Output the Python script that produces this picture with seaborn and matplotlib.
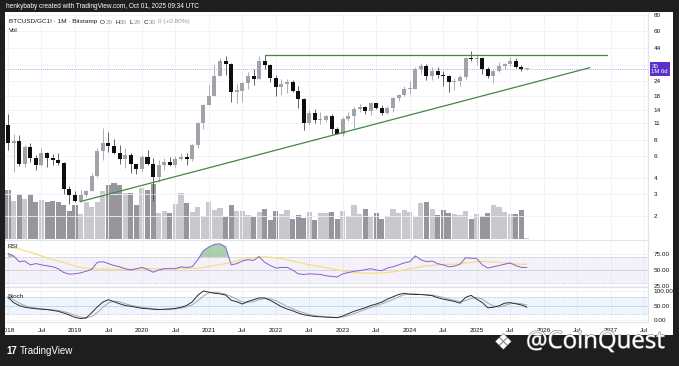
import numpy as np
import pandas as pd
import matplotlib.pyplot as plt
import matplotlib.patheffects as pe
from matplotlib.patches import Rectangle
from matplotlib.ticker import NullLocator
import seaborn as sns

# monthly candles BTCUSD/GC1!, Jan 2018 .. Oct 2025
first_open = 10.6
close = [7.6, 7.84, 5.22, 7.03, 5.77, 5.10, 6.32, 5.83, 5.56, 5.24, 3.29, 2.92,
         2.62, 2.93, 3.17, 4.15, 6.57, 7.66, 7.14, 6.34, 5.63, 6.08, 5.17, 4.72,
         5.89, 5.15, 4.08, 5.11, 5.40, 5.08, 5.72, 5.90, 5.69, 7.34, 11.07, 15.3,
         17.9, 26.1, 34.3, 32.7, 19.6, 19.8, 22.8, 25.9, 24.9, 34.4, 32.1, 25.3,
         21.4, 22.7, 23.3, 19.7, 17.2, 11.0, 13.1, 11.6, 11.6, 12.5, 9.78, 9.04,
         11.9, 12.6, 14.3, 14.7, 13.7, 15.8, 14.6, 13.2, 14.5, 17.3, 18.3, 20.4,
         20.6, 29.7, 31.6, 26.3, 28.7, 26.8, 26.1, 23.3, 23.8, 25.5, 36.0, 35.4,
         36.1, 29.6, 26.2, 28.5, 31.6, 32.4, 34.6, 30.8, 29.4, 29.6]
high = [12.9, 8.9, 8.8, 7.4, 7.6, 6.1, 6.9, 6.45, 6.2, 6.3, 5.4, 3.45,
        3.15, 3.2, 3.2, 4.35, 7.0, 10.0, 9.3, 8.2, 7.3, 7.0, 6.3, 5.2,
        6.1, 6.7, 5.8, 5.6, 5.8, 5.9, 6.0, 6.3, 6.3, 7.5, 11.2, 15.5,
        22.5, 32.0, 36.2, 37.5, 33.0, 22.5, 23.5, 28.0, 29.5, 37.5, 38.5, 32.5,
        26.6, 24.5, 24.8, 24.3, 21.5, 17.5, 14.0, 14.2, 13.5, 12.8, 13.0, 10.2,
        12.3, 13.5, 14.8, 15.5, 15.0, 16.2, 16.0, 15.4, 14.9, 17.6, 18.7, 21.6,
        23.6, 31.0, 33.4, 32.3, 30.6, 30.8, 28.5, 26.8, 25.1, 26.8, 37.2, 41.0,
        39.0, 37.0, 30.5, 29.3, 33.8, 33.3, 37.3, 36.0, 32.0, 30.0]
low = [6.7, 4.5, 5.0, 4.9, 5.4, 4.6, 4.95, 4.9, 5.1, 5.1, 3.0, 2.5,
       2.55, 2.58, 2.84, 3.15, 4.1, 5.6, 6.4, 6.2, 5.2, 4.8, 4.4, 4.3,
       4.45, 5.1, 2.6, 3.7, 4.65, 5.0, 4.9, 5.6, 5.1, 5.5, 7.0, 9.8,
       15.2, 17.9, 26.0, 26.6, 16.2, 15.8, 16.3, 20.5, 22.3, 24.5, 29.7, 23.3,
       18.2, 18.3, 19.0, 19.6, 14.4, 9.7, 10.6, 11.0, 10.8, 11.1, 8.9, 9.0,
       8.7, 11.4, 10.1, 13.4, 13.0, 12.8, 14.2, 12.8, 12.9, 13.5, 16.6, 18.2,
       18.6, 20.4, 27.0, 24.4, 24.1, 25.0, 21.8, 19.6, 20.1, 21.5, 24.9, 34.5,
       31.8, 27.3, 25.0, 23.0, 28.2, 29.6, 31.6, 30.3, 28.6, 29.0]
volume = [49, 38, 45, 40, 45, 37, 39, 37, 38, 37, 34, 28,
          34, 25, 37, 32, 37, 48, 54, 56, 54, 46, 46, 34,
          51, 49, 55, 26, 28, 26, 35, 46, 36, 27, 32, 23,
          37, 29, 31, 22, 34, 28, 28, 24, 22, 27, 30, 19,
          28, 25, 29, 20, 24, 21, 27, 19, 26, 26, 27, 20,
          28, 23, 34, 25, 30, 22, 26, 20, 23, 30, 26, 29,
          27, 22, 36, 37, 30, 24, 29, 26, 25, 24, 28, 20,
          25, 23, 26, 34, 32, 27, 25, 25, 29, 1]
rsi = [76, 72, 63, 64, 58, 60, 58, 56.5, 55, 52, 46, 43.5,
       44, 45.5, 48, 51, 62, 63, 60, 57, 55, 52, 50, 52,
       54, 51, 46.5, 50, 52, 52, 52, 55, 54, 55, 66, 80,
       86, 90, 91, 86, 58, 60, 64, 66, 65, 71, 62, 57,
       53, 54, 54, 50, 44, 43, 44, 43.5, 43, 41, 40, 39,
       44, 46, 48, 49, 50.5, 52, 50, 49, 53, 55, 58, 61,
       63, 72, 66, 63, 64, 60, 58, 55, 56, 59, 69, 68.5,
       68, 58, 53, 55, 57, 59, 61, 57, 54, 54]
rsi_ma = [85, 84, 83, 80, 78, 75, 72, 69, 66, 64, 62, 59,
          56, 54, 53, 52, 51.5, 51.5, 51.5, 51.5, 51, 51, 51, 51.5,
          51.5, 52, 52, 52, 52, 52.5, 52.5, 52.5, 52.5, 52.5, 53, 54,
          55.5, 57, 58.5, 60, 62, 64, 66, 68, 69, 70, 70.5, 70,
          69, 68, 66, 64, 62, 60, 58, 56.5, 55, 53.5, 52, 50.5,
          48.5, 47, 46, 45.5, 45, 45, 45, 45.5, 46, 47, 48.5, 50,
          52, 53.5, 55, 56.5, 57, 58, 58.5, 59, 59, 60, 61, 62,
          63, 63.5, 63, 62.5, 62, 61, 60, 59.5, 59, 59]
stoch_k = [78, 60, 50, 44, 41, 39, 37, 36, 33, 30, 24, 17,
           9, 5, 7, 25, 45, 62, 70, 63, 56, 50, 47, 44,
           40, 39, 37, 36, 37, 38, 40, 44, 50, 62, 85, 100,
           96, 92, 90, 86, 68, 63, 55, 64, 70, 76, 76, 68,
           57, 46, 38, 32, 24, 18, 15, 12, 11, 10, 9, 8,
           14, 22, 30, 36, 42, 50, 55, 62, 72, 80, 88, 92,
           89, 88, 88, 86, 84, 77, 72, 68, 64, 58, 78, 85,
           72, 60, 42, 44, 49, 58, 60, 56, 52, 44]
stoch_d = [82, 70, 58, 50, 44, 41, 39, 37, 35, 33, 29, 23,
           16, 10, 7, 12, 26, 44, 59, 65, 63, 56, 51, 47,
           44, 41, 39, 37, 36, 37, 38, 41, 45, 52, 66, 82,
           94, 96, 93, 89, 81, 72, 62, 61, 63, 70, 74, 73,
           67, 57, 47, 39, 31, 25, 19, 15, 13, 11, 10, 9,
           10, 15, 22, 29, 36, 43, 49, 56, 63, 71, 80, 87,
           90, 90, 88, 87, 86, 82, 78, 72, 68, 63, 67, 74,
           78, 72, 58, 49, 45, 50, 56, 58, 56, 51]

# drawn trendlines (month index, price)
support_x = [12.9, 104.3]
support_y = [2.59, 30.4]
resist_x = [46.1, 107.3]
resist_y = [38.4, 38.4]

price_ticks = [2, 3, 4, 6, 8, 11, 14, 18, 24, 32, 44, 60, 80]
x_labels = ["2018", "Jul", "2019", "Jul", "2020", "Jul", "2021", "Jul", "2022", "Jul",
            "2023", "Jul", "2024", "Jul", "2025", "Jul", "2026", "Jul", "2027", "Jul"]

df = pd.DataFrame({"close": close, "high": high, "low": low, "volume": volume,
                   "rsi": rsi, "rsi_ma": rsi_ma, "k": stoch_k, "d": stoch_d})
df["idx"] = np.arange(len(df))
df["open"] = [first_open] + close[:-1]
up = df["close"] >= df["open"]

W, H = 679, 366
def box(l, t, r, b):
    return [l / W, 1 - b / H, (r - l) / W, (b - t) / H]

sns.set_style("white")
plt.rcParams['font.family'] = ['Liberation Sans', 'DejaVu Sans']
TXT = '#131722'
GRID = '#f0f1f5'
SEP = '#e0e3eb'
XMIN, XMAX = -0.54, 114.7

fig = plt.figure(figsize=(6.79, 3.66), dpi=100, facecolor='#1e1e1e')
fig.add_artist(Rectangle((5 / W, 1 - 335 / H), 668 / W, 323 / H, transform=fig.transFigure,
                         fc='white', ec='none', zorder=-1))

ax_v = fig.add_axes(box(5, 13, 648, 240))
ax_p = fig.add_axes(box(5, 13, 648, 240), sharex=ax_v)
ax_r = fig.add_axes(box(5, 240, 648, 287), sharex=ax_v)
ax_s = fig.add_axes(box(5, 287, 648, 322), sharex=ax_v)

# volume
vol_colors = np.where(up, '#c8c8cd', '#96969c')
ax_v.bar(df["idx"], df["volume"], width=0.92, color=vol_colors, linewidth=0)
ax_v.set_ylim(-1, 226)
ax_v.set_yticks([])
ax_v.grid(False)

# candles
ax_p.patch.set_visible(False)
wick_colors = np.where(up, '#a2a2aa', '#4a4a4a')
body_colors = np.where(up, '#a2a2aa', '#0e0e0e')
ax_p.vlines(df["idx"], df["low"], df["high"], colors=wick_colors, lw=0.6, zorder=2)
body_lo = np.minimum(df["open"], df["close"])
body_h = np.maximum(np.abs(df["close"] - df["open"]), body_lo * 0.025)
ax_p.bar(df["idx"], body_h, bottom=body_lo, width=0.72, color=body_colors, linewidth=0, zorder=3)

ax_p.plot(support_x, support_y, color='#3f8a43', lw=0.9, zorder=4)
ax_p.plot(resist_x, resist_y, color='#3f8a43', lw=0.9, zorder=4)
ax_p.axhline(close[-1], color='#a48be0', ls=(0, (1, 1.5)), lw=0.6, zorder=1)

ax_p.set_yscale('log')
ax_p.set_ylim(1.28, 83)
ax_p.set_yticks(price_ticks)
ax_p.set_yticklabels([str(t) for t in price_ticks])
ax_p.yaxis.set_minor_locator(NullLocator())
ax_p.annotate("30\n1M 6d", xy=(1.0, close[-1]), xycoords=('axes fraction', 'data'),
              xytext=(2.5, 0), textcoords='offset points', ha='left', va='center',
              fontsize=4.3, color='white', linespacing=1.0, annotation_clip=False,
              bbox=dict(boxstyle='square,pad=0.3', fc='#5b2fc9', ec='none'), zorder=10)

# RSI
ax_r.axhspan(30, 70, color='#7e57c2', alpha=0.08, lw=0)
for lv in (70, 50, 30):
    ax_r.axhline(lv, color='#a0a3ad', ls=(0, (1, 1.5)), lw=0.5)
rsi_arr = df["rsi"].to_numpy()
ax_r.fill_between(df["idx"], rsi_arr, 70, where=rsi_arr > 70, interpolate=True,
                  color='#5aa05e', alpha=0.5, lw=0)
sns.lineplot(x=df["idx"], y=df["rsi_ma"], ax=ax_r, color='#f8de7e', lw=0.9, legend=False)
sns.lineplot(x=df["idx"], y=df["rsi"], ax=ax_r, color='#8462cc', lw=0.7, legend=False)
ax_r.set_ylim(23.4, 96.9)
ax_r.set_yticks([25, 50, 75])
ax_r.set_yticklabels(['25.00', '50.00', '75.00'])

# Stoch
ax_s.axhspan(20, 80, color='#2196f3', alpha=0.08, lw=0)
for lv in (80, 50, 20):
    ax_s.axhline(lv, color='#a0a3ad', ls=(0, (1, 1.5)), lw=0.5)
sns.lineplot(x=df["idx"], y=df["d"], ax=ax_s, color='#a6a6a6', lw=0.7, legend=False)
sns.lineplot(x=df["idx"], y=df["k"], ax=ax_s, color='#2e2e2e', lw=0.7, legend=False)
ax_s.set_ylim(-6.9, 113.8)
ax_s.set_yticks([0, 50, 100])
ax_s.set_yticklabels(['0.00', '50.00', '100.00'])

ax_s.set_xticks(np.arange(0, 115, 6))
ax_s.set_xticklabels(x_labels)
ax_s.set_xlim(XMIN, XMAX)

for ax in (ax_v, ax_p, ax_r, ax_s):
    ax.set_xlabel('')
    ax.set_ylabel('')
    for s in ax.spines.values():
        s.set_visible(False)
for ax in (ax_p, ax_r, ax_s):
    ax.yaxis.tick_right()
    ax.grid(True, axis='both', color=GRID, lw=0.6)
    ax.set_axisbelow(True)
    ax.tick_params(axis='y', which='both', length=0, labelsize=4.6, pad=4, labelcolor=TXT)
    ax.spines['right'].set_visible(True)
    ax.spines['right'].set_color(SEP)
    ax.spines['right'].set_linewidth(0.8)
for ax in (ax_v, ax_p, ax_r):
    ax.tick_params(axis='x', labelbottom=False, length=0)
for ax in (ax_r, ax_s):
    ax.spines['top'].set_visible(True)
    ax.spines['top'].set_color(SEP)
    ax.spines['top'].set_linewidth(0.8)
ax_s.spines['bottom'].set_visible(True)
ax_s.spines['bottom'].set_color(SEP)
ax_s.tick_params(axis='x', length=0, labelsize=4.6, pad=4, labelcolor=TXT)

# texts
def px_text(x, y, s, **kw):
    return fig.text(x / W, 1 - y / H, s, va='center', ha='left', **kw)

px_text(6, 6.5, "henkybaby created with TradingView.com, Oct 01, 2025 09:34 UTC",
        color='white', fontsize=4.7)

# legend line, pieces placed one after another
renderer = fig.canvas.get_renderer()
legend_parts = [("BTCUSD/GC1! · 1M · Bitstamp", TXT, 3), ("O", TXT, 0.5), ("29", '#9598a1', 2.5),
                ("H", TXT, 0.5), ("30", '#9598a1', 2.5), ("L", TXT, 0.5), ("29", '#9598a1', 2.5),
                ("C", TXT, 0.5), ("30", '#9598a1', 2.5), ("0 (+0.80%)", '#9598a1', 0)]
lx = 9
for s, c, gap in legend_parts:
    t = px_text(lx, 22, s, color=c, fontsize=4.6)
    lx = t.get_window_extent(renderer).x1 + gap

px_text(9, 31, "Vol", color=TXT, fontsize=4.6)
px_text(8, 247, "RSI", color=TXT, fontsize=4.6)
px_text(8, 296, "Stoch", color=TXT, fontsize=4.6)

px_text(6, 351, "17", color='white', fontsize=7, fontweight='bold')
px_text(20, 351, "TradingView", color='white', fontsize=7)

px_text(494, 343, "❖", color='white', fontsize=15, family=['DejaVu Sans'],
        path_effects=[pe.withStroke(linewidth=0.8, foreground='#777777')])
px_text(526, 342, "@CoinQuest", color='white', fontsize=17.3, family=['Open Sans', 'DejaVu Sans'],
        path_effects=[pe.withStroke(linewidth=0.8, foreground='#777777')])

fig.savefig("out.png", dpi=100, facecolor=fig.get_facecolor())
